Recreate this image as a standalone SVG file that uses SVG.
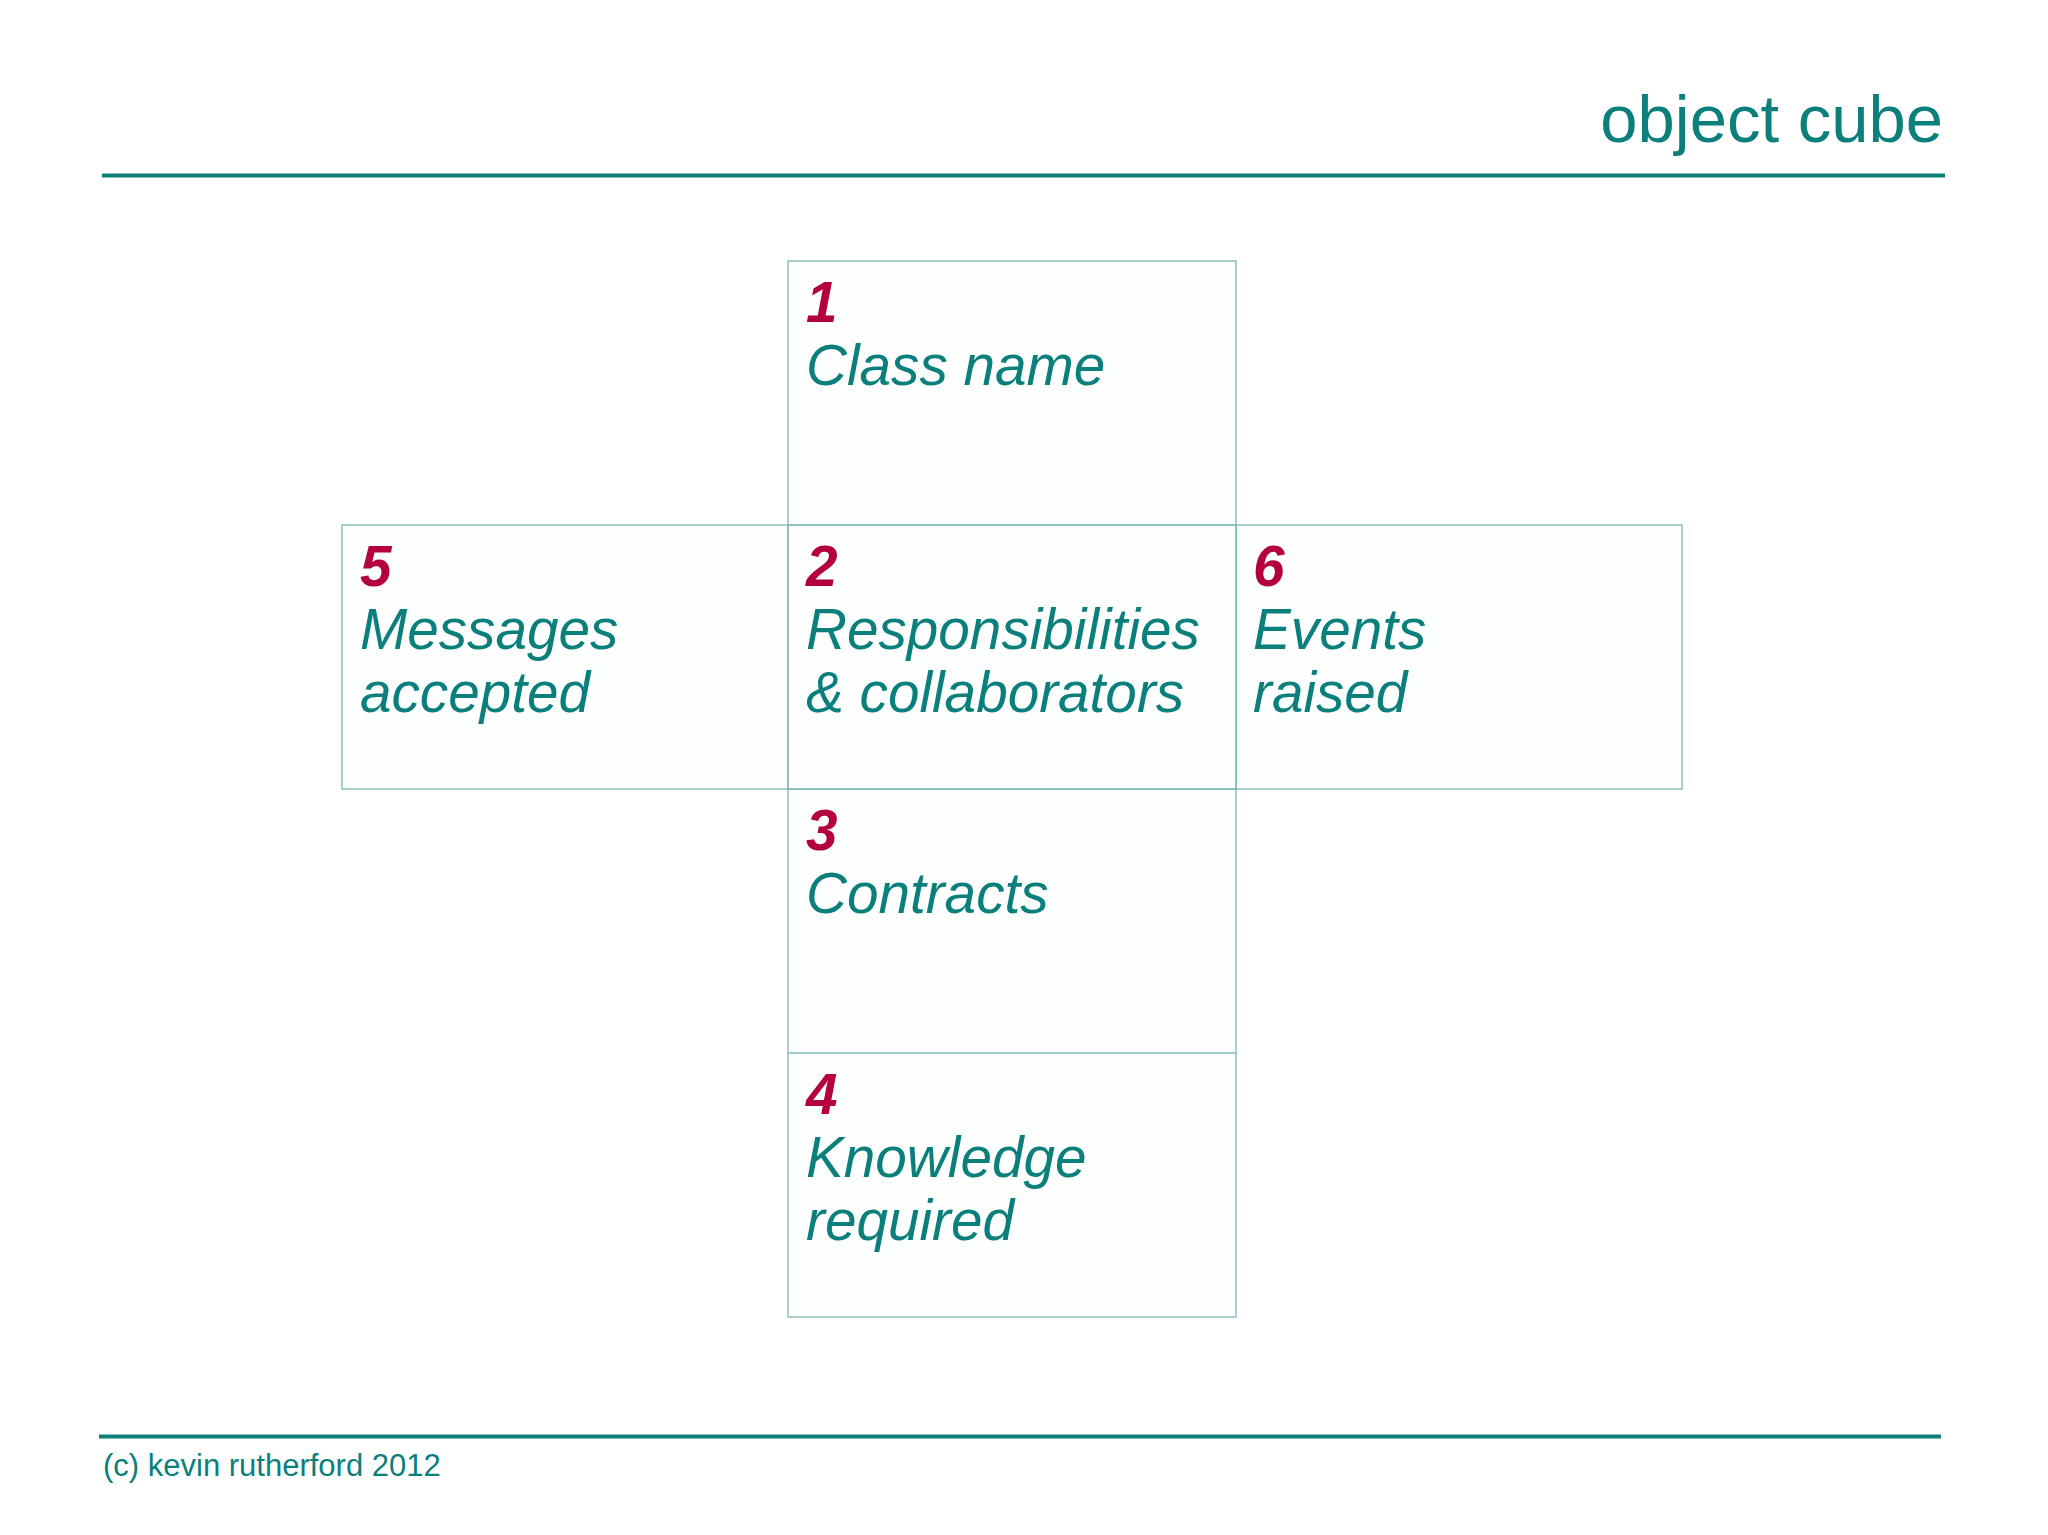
<svg xmlns="http://www.w3.org/2000/svg" width="2048" height="1535" viewBox="0 0 2048 1535">
<style>
.bg{fill:#ffffff}
.rule{stroke:#0e7f7b;stroke-width:4;fill:none}
.box{fill:#fdfefe;stroke:#8fc5c2;stroke-width:1.6}
.mid{stroke:#7fb8b6}
.num{font-family:"Liberation Sans",Arial,sans-serif;font-size:56.7px;font-weight:bold;font-style:italic;fill:#b4003d}
.lbl{font-family:"Liberation Sans",Arial,sans-serif;font-size:56.7px;font-style:italic;fill:#0b7f7b}
.title{font-family:"Liberation Sans",Arial,sans-serif;font-size:67px;fill:#0b7f7b}
.foot{font-family:"Liberation Sans",Arial,sans-serif;font-size:31px;fill:#0b7f7b}
</style>
<rect class="bg" x="0" y="0" width="2048" height="1535"/>
<g id="header">
<text class="title" x="1943" y="142" text-anchor="end">object cube</text>
<line class="rule" x1="102" y1="175.5" x2="1945" y2="175.5"/>
</g>
<g id="face1">
<rect class="box" x="788" y="261" width="448" height="264"/>
<text class="num" x="806" y="322">1</text>
<text class="lbl" x="806" y="385">Class name</text>
</g>
<g id="face5">
<rect class="box" x="342" y="525" width="446" height="264"/>
<text class="num" x="360" y="586">5</text>
<text class="lbl" x="360" y="649">Messages</text>
<text class="lbl" x="360" y="712">accepted</text>
</g>
<g id="face6">
<rect class="box" x="1236" y="525" width="446" height="264"/>
<text class="num" x="1253" y="586">6</text>
<text class="lbl" x="1253" y="649">Events</text>
<text class="lbl" x="1253" y="712">raised</text>
</g>
<g id="face3">
<rect class="box" x="788" y="789" width="448" height="264"/>
<text class="num" x="806" y="850">3</text>
<text class="lbl" x="806" y="913">Contracts</text>
</g>
<g id="face4">
<rect class="box" x="788" y="1053" width="448" height="264"/>
<text class="num" x="806" y="1114">4</text>
<text class="lbl" x="806" y="1177">Knowledge</text>
<text class="lbl" x="806" y="1240">required</text>
</g>
<g id="face2">
<rect class="box mid" x="788" y="525" width="448" height="264"/>
<text class="num" x="806" y="586">2</text>
<text class="lbl" x="806" y="649">Responsibilities</text>
<text class="lbl" x="806" y="712">&amp; collaborators</text>
</g>
<g id="connectors"></g>
<g id="footer">
<line class="rule" x1="99" y1="1436.5" x2="1941" y2="1436.5"/>
<text class="foot" x="103" y="1476">(c) kevin rutherford 2012</text>
</g>
</svg>
